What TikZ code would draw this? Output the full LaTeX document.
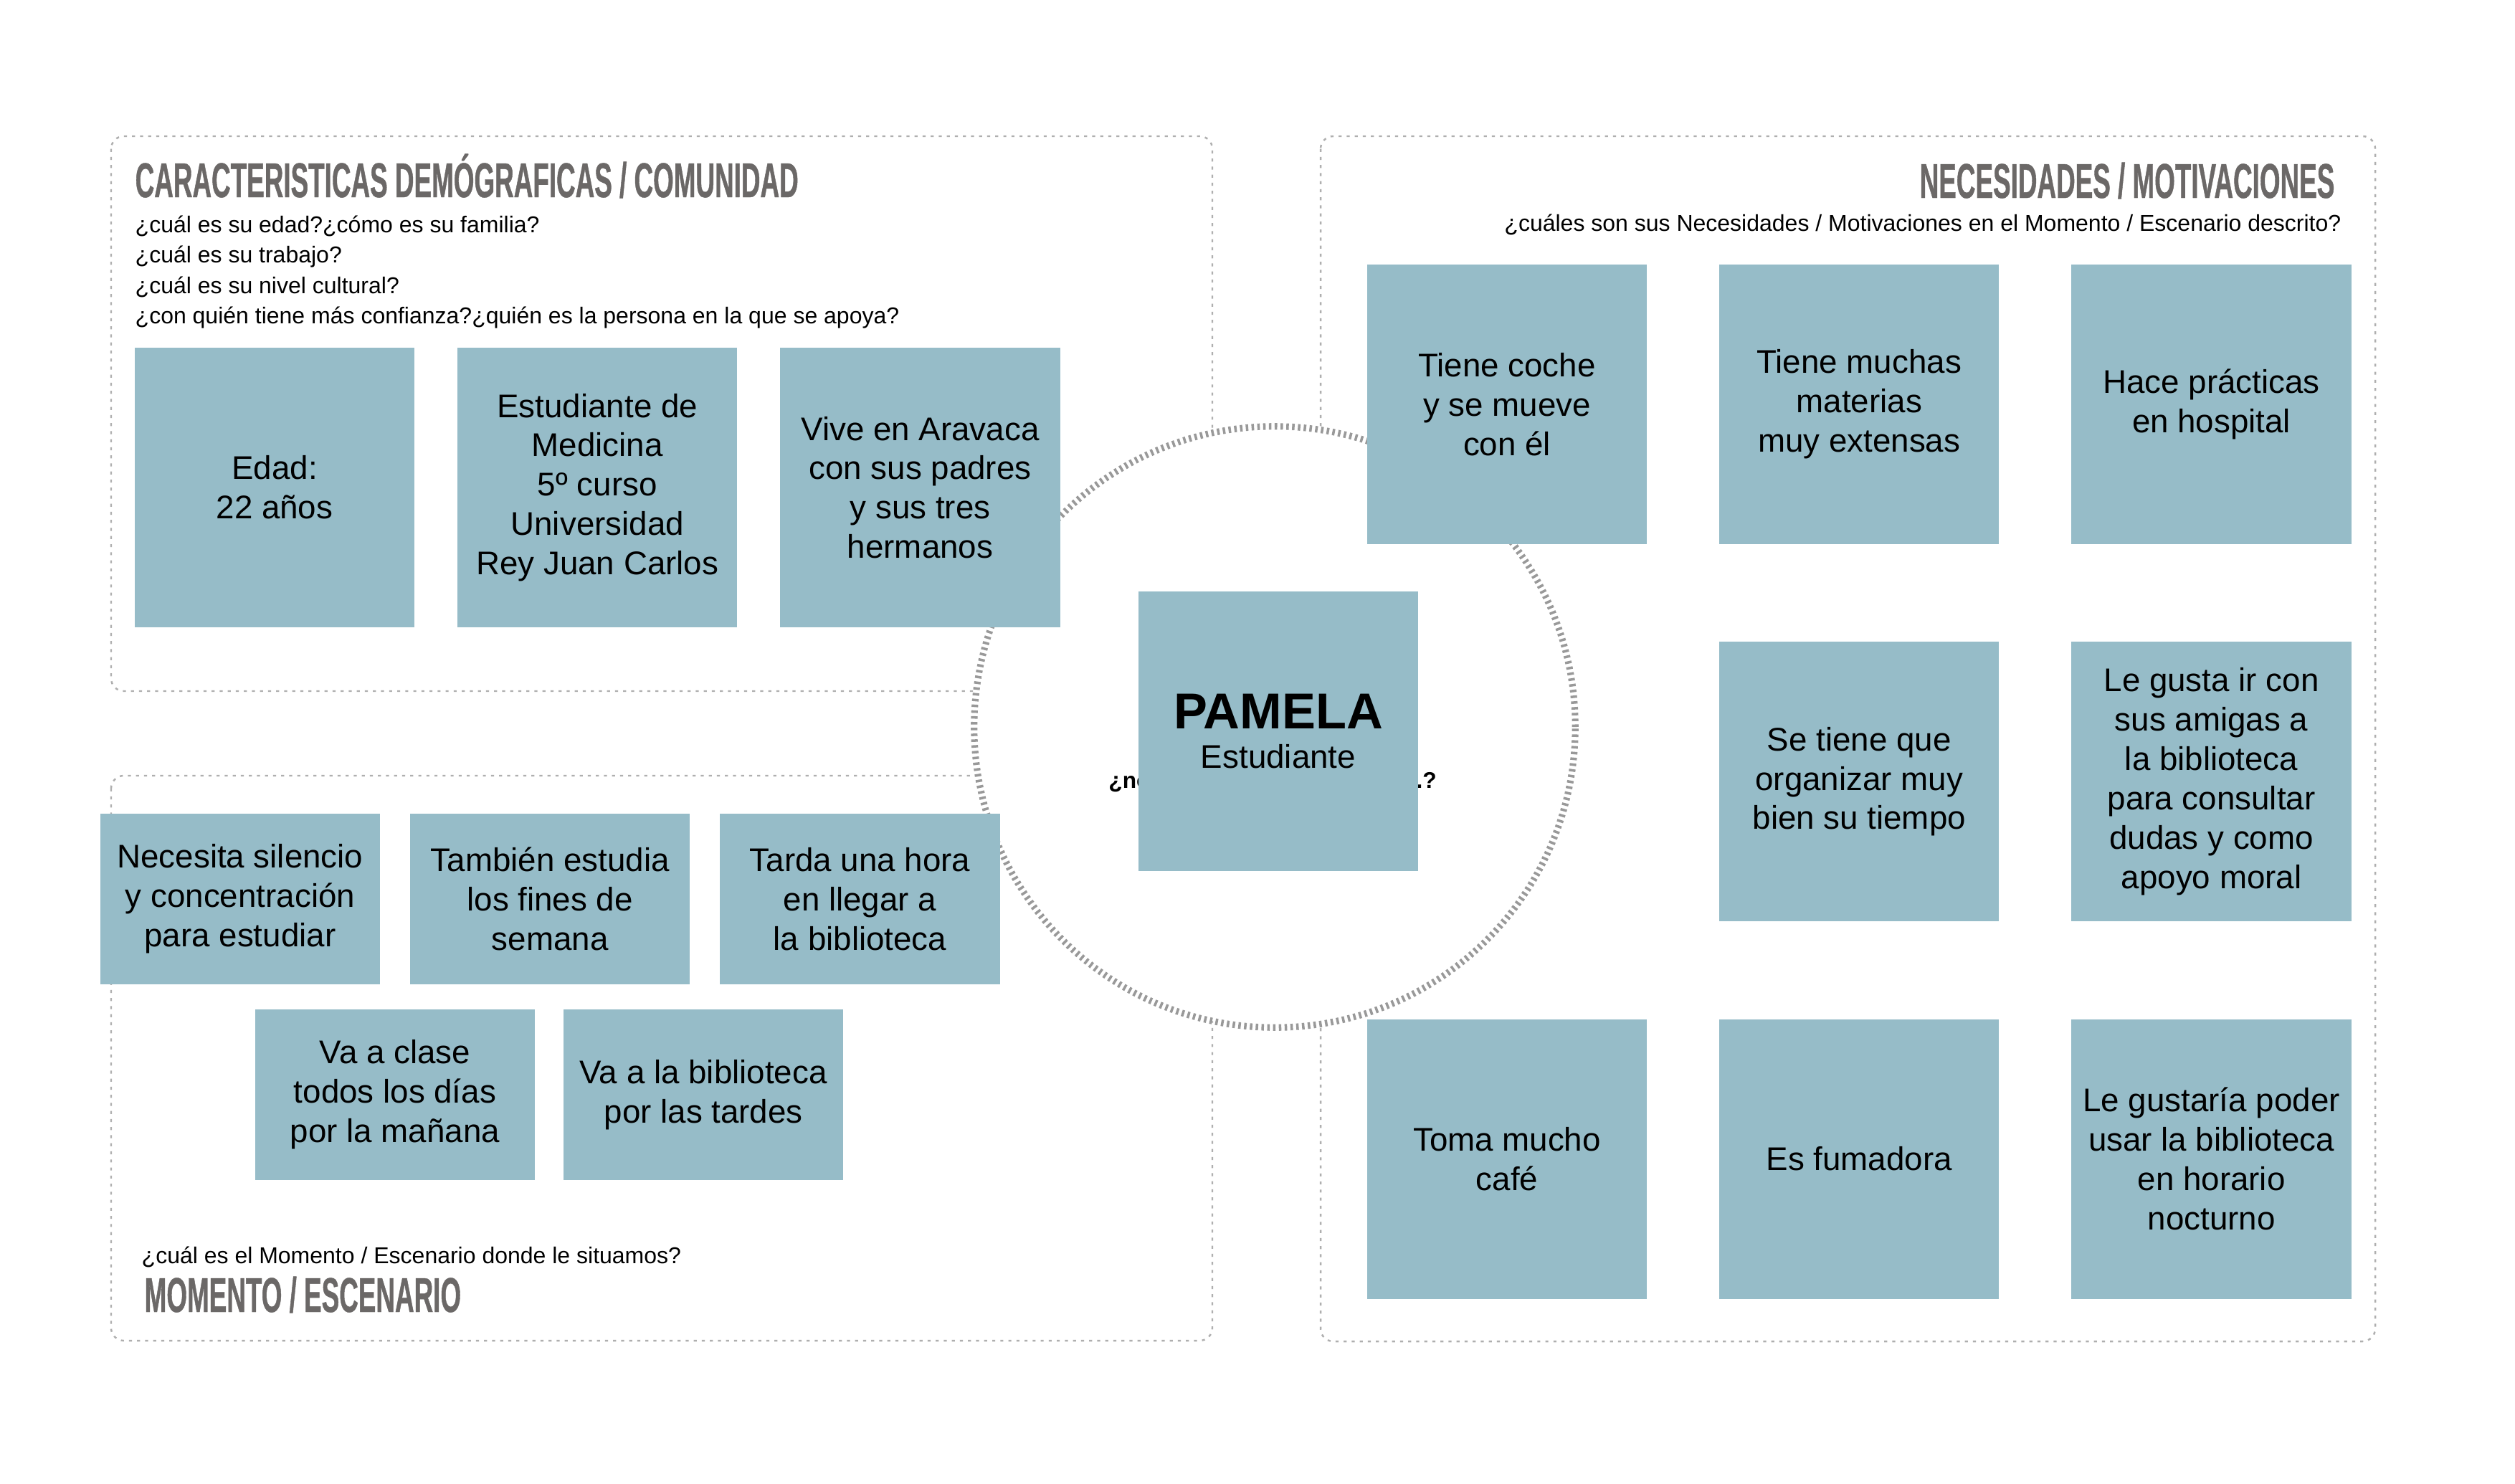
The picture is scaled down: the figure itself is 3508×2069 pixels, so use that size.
\documentclass[tikz,border=0pt]{standalone}
\usepackage{fontspec}
\setmainfont{Liberation Sans}
\newfontfamily\headfont[FakeStretch=0.54,FakeBold=0.6]{Liberation Sans}
\usepackage{xcolor}
\usetikzlibrary{positioning}
\definecolor{cNote}{HTML}{96BCC8}
\definecolor{cHead}{HTML}{6B6867}
\definecolor{cRing}{HTML}{999999}
\definecolor{cFrame}{HTML}{AFAFAF}
\tikzset{
  note/.style={fill=cNote,minimum width=3.9cm,minimum height=3.9cm,inner sep=2pt,outer sep=0pt,align=center,font=\fontsize{13}{15.6}\selectfont},
  snote/.style={note,minimum height=2.37cm},
  frame/.style={draw=cFrame,rounded corners=5pt,dash pattern=on 1.2pt off 2pt,line width=0.7pt},
  ring/.style={draw=cRing,fill=white,line width=2.6pt,dash pattern=on 1pt off 1.3pt},
  head/.style={font=\headfont\bfseries\fontsize{19.4}{21}\selectfont,text=cHead,inner sep=0pt},
  ask/.style={font=\fontsize{9.1}{12.1}\selectfont,inner sep=0pt,align=left}}
\begin{document}
\begin{tikzpicture}[x=0.01cm,y=-0.01cm]
\path[use as bounding box,fill=white] (0,0) rectangle (3508,2069);
% three areas
\draw[frame] (155,190) rectangle (1691,964);
\draw[frame] (155,1082) rectangle (1691,1870);
\draw[frame] (1842,190) rectangle (3313,1871);
\draw[ring] (1778,1014) circle[radius=4.19cm];
% titles and questions
\node[head,anchor=base west] (hdemo) at (188,275) {CARACTERISTICAS DEMÓGRAFICAS / COMUNIDAD};
\node[ask,anchor=north west] (qdemo) at (188,300) {¿cuál es su edad?¿cómo es su familia?\\ ¿cuál es su trabajo?\\ ¿cuál es su nivel cultural?\\ ¿con quién tiene más confianza?¿quién es la persona en la que se apoya?};
\node[head,anchor=base east] (hneed) at (3257,276) {NECESIDADES / MOTIVACIONES};
\node[ask,anchor=base east] (qneed) at (3266,322) {¿cuáles son sus Necesidades / Motivaciones en el Momento / Escenario descrito?};
\node[ask,anchor=base west] (qmom) at (197,1762) {¿cuál es el Momento / Escenario donde le situamos?};
\node[head,anchor=base west] (hmom) at (201,1830) {MOMENTO / ESCENARIO};
\node[ask,font=\bfseries\fontsize{9}{11}\selectfont] (hint) at (1775,1091) {¿nombre, edad, ocupación....?};
% persona
\node[note] (pamela) at (1783,1020) {{\fontsize{20}{24}\selectfont\bfseries PAMELA}\\ Estudiante};
% demographics
\node[note] (edad) at (383,680) {Edad:\\ 22 años};
\node[note, right=0.6cm of edad] (estud) {Estudiante de\\ Medicina\\ 5º curso\\ Universidad\\ Rey Juan Carlos};
\node[note, right=0.6cm of estud] (vive) {Vive en Aravaca\\ con sus padres\\ y sus tres\\ hermanos};
% needs / motivations
\node[note] (coche) at (2102,564) {Tiene coche\\ y se mueve\\ con él};
\node[note, right=1.01cm of coche] (mater) {Tiene muchas\\ materias\\ muy extensas};
\node[note, right=1.01cm of mater] (pract) {Hace prácticas\\ en hospital};
\node[note, below=1.36cm of mater] (organ) {Se tiene que\\ organizar muy\\ bien su tiempo};
\node[note, right=1.01cm of organ] (amigas) {Le gusta ir con\\ sus amigas a\\ la biblioteca\\ para consultar\\ dudas y como\\ apoyo moral};
\node[note, below=1.36cm of organ] (fuma) {Es fumadora};
\node[note, left=1.01cm of fuma] (cafe) {Toma mucho\\ café};
\node[note, right=1.01cm of fuma] (noct) {Le gustaría poder\\ usar la biblioteca\\ en horario\\ nocturno};
% moment / scenario
\node[snote] (silen) at (335,1254) {Necesita silencio\\ y concentración\\ para estudiar};
\node[snote, right=0.42cm of silen] (finde) {También estudia\\ los fines de\\ semana};
\node[snote, right=0.42cm of finde] (tarda) {Tarda una hora\\ en llegar a\\ la biblioteca};
\node[snote] (clase) at (551,1527) {Va a clase\\ todos los días\\ por la mañana};
\node[snote, right=0.4cm of clase] (tardes) {Va a la biblioteca\\ por las tardes};
\end{tikzpicture}
\end{document}
